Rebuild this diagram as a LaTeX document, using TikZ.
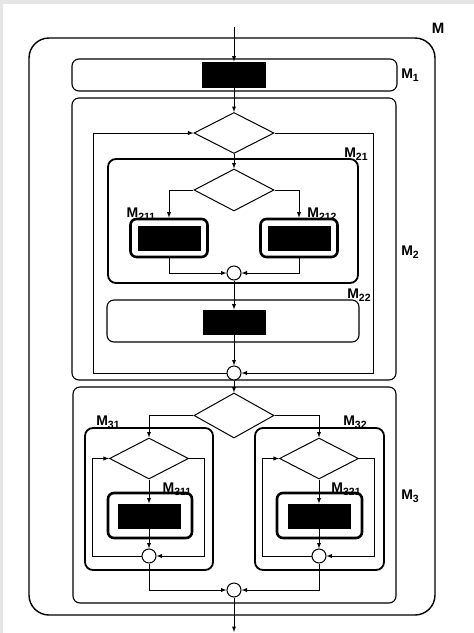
\documentclass[tikz,border=0pt]{standalone}
\usepackage{fontspec}
\setmainfont{Liberation Sans}
\usetikzlibrary{arrows,shapes.geometric,positioning}
\newcommand{\mlab}[1]{\textbf{M\raisebox{-3pt}{\fontsize{10.5}{10.5}\selectfont #1}}}

\begin{document}
\begin{tikzpicture}[x=1pt,y=-1pt,->,>=latex,line width=0.9pt,
  module/.style={draw,-,rounded corners=7pt,line width=1.1pt,inner sep=0pt},
  submodule/.style={module,line width=1.8pt,rounded corners=8pt},
  unitbox/.style={module,line width=2.6pt,rounded corners=6pt},
  blk/.style={draw,-,fill=black,inner sep=0pt,minimum width=62pt,minimum height=24pt},
  testbox/.style={draw,-,diamond,fill=white,inner sep=0pt,minimum width=80pt,minimum height=42pt,line width=1pt},
  merge/.style={draw,-,circle,fill=white,inner sep=0pt,minimum size=14pt,line width=1pt},
  mtag/.style={inner sep=0pt,font=\fontsize{14}{14}\selectfont}]
  \useasboundingbox (0,0) rectangle (474,633);
  \fill[-,gray!20] (0,0) rectangle (474,4);
  \fill[-,gray!20] (0,0) rectangle (3,633);

  \node[module,minimum width=406pt,minimum height=577pt,rounded corners=20pt,line width=1.4pt] (M) at (232,326.5) {};
  \node[module,minimum width=325pt,minimum height=32pt] (M1) at (234.5,75) {};
  \node[blk,minimum width=63pt,minimum height=25pt] (b1) at (234,74.5) {};

  \node[module,minimum width=324pt,minimum height=282pt] (M2) at (234,239) {};
  \node[testbox,minimum height=41pt] (d1) at (234,133) {};
  \node[submodule,minimum width=250pt,minimum height=124pt] (M21) at (233,221) {};
  \node[testbox] (d2) at (234,190) {};
  \node[unitbox,minimum width=77pt,minimum height=38pt] (M211) at (169,238) {};
  \node[blk] (b211) at (M211) {};
  \node[unitbox,minimum width=77pt,minimum height=38pt] (M212) at (299,238) {};
  \node[blk] (b212) at (M212) {};
  \node[merge] (c21) at (234,273) {};
  \node[module,minimum width=252pt,minimum height=42pt] (M22) at (233,321) {};
  \node[blk] (b22) at (234,322) {};
  \node[merge] (c2) at (234,373) {};

  \node[module,minimum width=323pt,minimum height=216pt] (M3) at (234.5,495) {};
  \node[testbox,minimum height=45pt] (d3) at (234,415.5) {};
  \node[submodule,minimum width=128pt,minimum height=142pt] (M31) at (149,499) {};
  \node[testbox,minimum width=79pt,minimum height=41pt] (d31) at (149,458.5) {};
  \node[unitbox,minimum width=84pt,minimum height=45pt] (M311) at (150,515.5) {};
  \node[blk] (b311) at (149,516) {};
  \node[merge] (c31) at (149,556) {};
  \node[submodule,minimum width=129pt,minimum height=142pt] (M32) at (319.5,499) {};
  \node[testbox,minimum width=79pt,minimum height=41pt] (d32) at (319,458.5) {};
  \node[unitbox,minimum width=85pt,minimum height=45pt] (M321) at (319.5,515.5) {};
  \node[blk] (b321) at (319,516) {};
  \node[merge] (c32) at (319,556) {};
  \node[merge] (c3) at (234,590) {};

  \node[mtag,font=\fontsize{15}{15}\selectfont] (tM) at (438,28) {\textbf{M}};
  \node[mtag] (t1) at (410,75) {\mlab{1}};
  \node[mtag] (t2) at (410,252) {\mlab{2}};
  \node[mtag] (t3) at (410,496) {\mlab{3}};
  \node[mtag] (t21) at (356,154) {\mlab{21}};
  \node[mtag] (t22) at (359,295) {\mlab{22}};
  \node[mtag] (t211) at (141,214) {\mlab{211}};
  \node[mtag] (t212) at (322,214) {\mlab{212}};
  \node[mtag] (t31) at (108,422) {\mlab{31}};
  \node[mtag] (t311) at (177,489) {\mlab{311}};
  \node[mtag] (t32) at (355,422) {\mlab{32}};
  \node[mtag] (t321) at (346,489) {\mlab{321}};

  \coordinate (in) at (234,27);
  \coordinate (out) at (234,632);
  \coordinate (L2) at (93,133);
  \coordinate (R2) at (373,133);
  \coordinate (L31) at (92,458.5);
  \coordinate (R31) at (204,458.5);
  \coordinate (L32) at (262,458.5);
  \coordinate (R32) at (374,458.5);

  \path
(in) edge (b1)
(b1) edge (d1)
(d1) edge (d2)
(c21) edge (b22)
(b22) edge (c2)
(c2) edge (d3)
(d31) edge (b311)
(b311) edge (c31)
(d32) edge (b321)
(b321) edge (c32)
(c3) edge (out)
;
  \draw (d2) -| (M211);
  \draw (d2) -| (M212);
  \draw (M211) |- (c21);
  \draw (M212) |- (c21);
  \draw (c2) -| (L2) -- (d1);
  \draw (d1) -- (R2) |- (c2);
  \draw (d3) -| (d31);
  \draw (d3) -| (d32);
  \draw (c31) -| (L31) -- (d31);
  \draw (d31) -- (R31) |- (c31);
  \draw (c32) -| (L32) -- (d32);
  \draw (d32) -- (R32) |- (c32);
  \draw (c31) |- (c3);
  \draw (c32) |- (c3);
\end{tikzpicture}
\end{document}
